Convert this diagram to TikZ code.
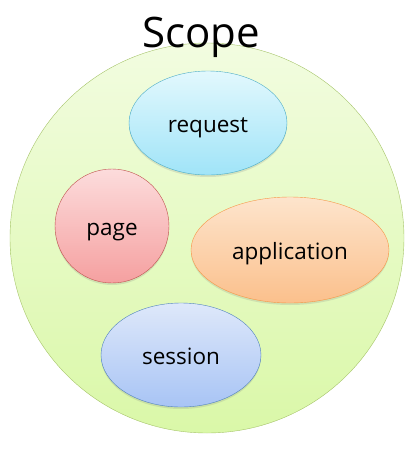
\documentclass[tikz,border=0pt]{standalone}
\usepackage{fontspec}
\setmainfont{Open Sans}
\usepackage{xcolor}
\usetikzlibrary{shapes.geometric, shadows}

\definecolor{scopeline}{HTML}{A6C46A}
\definecolor{reqline}{HTML}{4BACC6}
\definecolor{pageline}{HTML}{C0504D}
\definecolor{appline}{HTML}{F79646}
\definecolor{sessline}{HTML}{4F81BD}

\begin{document}
\begin{tikzpicture}[x=1pt, y=-1pt,
    blob/.style={draw, ellipse, inner sep=0pt, font=\fontsize{22.5}{26}\selectfont,
        text height=18pt, text depth=0pt,
        drop shadow={opacity=0.2, shadow xshift=0pt, shadow yshift=-2pt}}]
    \useasboundingbox (0,0) rectangle (413,456);
    \node (scope) [draw=scopeline, ellipse, minimum width=394pt, minimum height=390pt,
        top color={rgb,255:red,242;green,252;blue,224}, bottom color={rgb,255:red,218;green,248;blue,168}] at (207,238) {};
    \node (title) [anchor=base, font=\fontsize{42}{48}\selectfont] at (201,47) {Scope};

    \node (request) [blob, draw=reqline, minimum width=158pt, minimum height=104pt,
        top color={rgb,255:red,226;green,248;blue,253}, bottom color={rgb,255:red,160;green,228;blue,248}] at (208,123) {request};
    \node (page) [blob, draw=pageline, minimum width=114pt, minimum height=114pt,
        top color={rgb,255:red,252;green,220;blue,220}, bottom color={rgb,255:red,245;green,160;blue,160}] at (112,226) {page};
    \node (application) [blob, draw=appline, minimum width=198pt, minimum height=106pt,
        top color={rgb,255:red,253;green,228;blue,204}, bottom color={rgb,255:red,251;green,192;blue,140}] at (290,250) {application};
    \node (session) [blob, draw=sessline, minimum width=160pt, minimum height=104pt,
        top color={rgb,255:red,222;green,232;blue,250}, bottom color={rgb,255:red,168;green,196;blue,245}] at (181,355) {session};
\end{tikzpicture}
\end{document}
